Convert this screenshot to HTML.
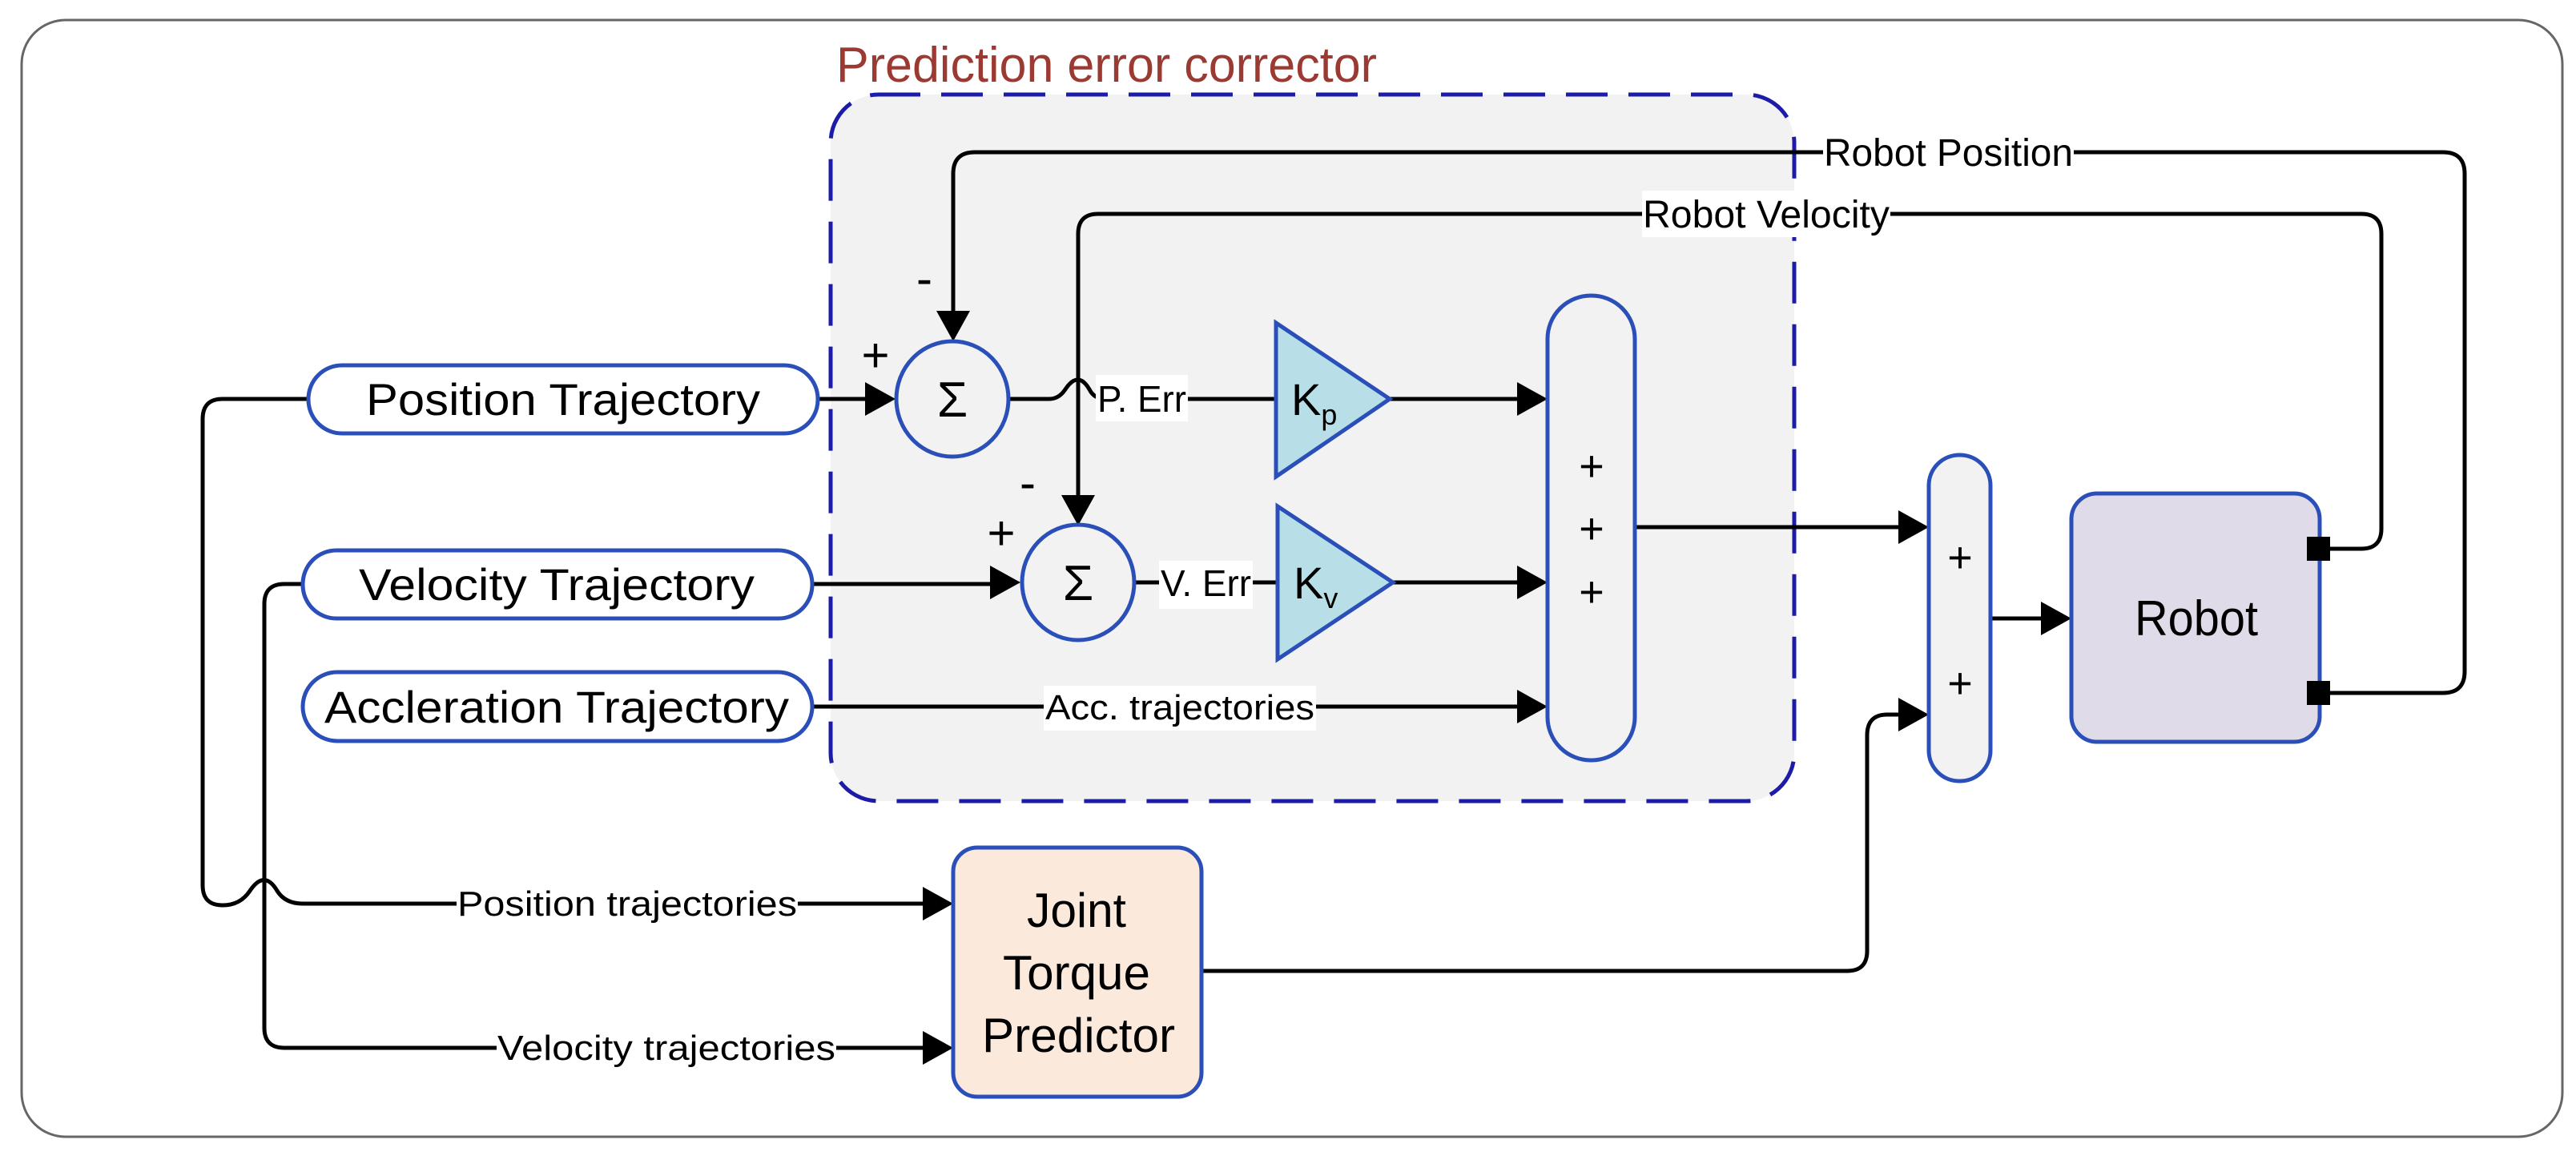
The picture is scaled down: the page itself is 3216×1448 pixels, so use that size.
<!DOCTYPE html>
<html><head><meta charset="utf-8"><style>
html,body{margin:0;padding:0;background:#fff;}
svg{display:block;}
text{font-family:"Liberation Sans",sans-serif;fill:#000;}
</style></head><body>
<svg width="3216" height="1448" viewBox="0 0 3216 1448" xmlns="http://www.w3.org/2000/svg">
<!-- outer frame -->
<rect x="27" y="25" width="3172" height="1394" rx="55" fill="#fff" stroke="#666" stroke-width="3"/>
<!-- title -->
<text x="1044" y="102" font-size="62" style="fill:#9b3a33" textLength="675" lengthAdjust="spacingAndGlyphs">Prediction error corrector</text>
<!-- dashed box -->
<rect x="1037" y="118" width="1203" height="882" rx="60" fill="#f2f2f2" stroke="#1c1ca8" stroke-width="5" stroke-dasharray="52,26"/>

<g fill="none" stroke="#000" stroke-width="5">
<path d="M2909,865 H3050 Q3077,865 3077,838 V217 Q3077,190 3050,190 H1217 Q1190,190 1190,217 V390"/>
<path d="M2909,685 H2948 Q2973,685 2973,660 V292 Q2973,267 2948,267 H1371 Q1346,267 1346,292 V620"/>
<path d="M1021,498 H1082"/>
<path d="M1260,498 H1310 Q1322,498 1330,486 Q1346,462 1360,486 Q1366,498 1380,498 H1593"/>
<path d="M1014,729 H1238"/>
<path d="M1418,727 H1593"/>
<path d="M1736,498 H1896"/>
<path d="M1739,727 H1896"/>
<path d="M1014,882 H1896"/>
<path d="M2041,658 H2372"/>
<path d="M2485,772 H2550"/>
<path d="M1500,1212 H2306 Q2331,1212 2331,1187 V918 Q2331,892 2356,892 H2372"/>
<path d="M385,498 H278 Q253,498 253,523 V1105 Q253,1130 278,1130 Q300,1130 312,1112 Q330,1085 346,1112 Q356,1128 378,1128 H1154"/>
<path d="M378,729 H355 Q330,729 330,754 V1283 Q330,1308 355,1308 H1154"/>
</g>
<g fill="#000">
<polygon points="1118,498 1080,477 1080,519"/>
<polygon points="1190,426 1169,388 1211,388"/>
<polygon points="1346,656 1325,618 1367,618"/>
<polygon points="1274,727 1236,706 1236,748"/>
<polygon points="1932,498 1894,477 1894,519"/>
<polygon points="1932,727 1894,706 1894,748"/>
<polygon points="1932,882 1894,861 1894,903"/>
<polygon points="2408,658 2370,637 2370,679"/>
<polygon points="2408,892 2370,871 2370,913"/>
<polygon points="2586,772 2548,751 2548,793"/>
<polygon points="1190,1128 1152,1107 1152,1149"/>
<polygon points="1190,1308 1152,1287 1152,1329"/>
</g>

<g fill="#fff" stroke="#2b4fb8" stroke-width="5">
<rect x="385" y="456" width="636" height="85" rx="42"/>
<rect x="378" y="687" width="636" height="85" rx="42"/>
<rect x="378" y="839" width="636" height="86" rx="43"/>
</g>
<text x="457" y="518" font-size="56" textLength="492" lengthAdjust="spacingAndGlyphs">Position Trajectory</text>
<text x="448" y="749" font-size="56" textLength="494" lengthAdjust="spacingAndGlyphs">Velocity Trajectory</text>
<text x="405" y="902" font-size="56" textLength="580" lengthAdjust="spacingAndGlyphs">Accleration Trajectory</text>

<g fill="#f2f2f2" stroke="#2b4fb8" stroke-width="5">
<ellipse cx="1189" cy="498" rx="70" ry="72"/>
<ellipse cx="1346" cy="727" rx="70" ry="72"/>
</g>
<text x="1189" y="520" font-size="62" text-anchor="middle">Σ</text>
<text x="1346" y="749" font-size="62" text-anchor="middle">Σ</text>
<text x="1154" y="368" font-size="60" text-anchor="middle">-</text>
<text x="1093" y="464" font-size="60" text-anchor="middle">+</text>
<text x="1283" y="623" font-size="60" text-anchor="middle">-</text>
<text x="1250" y="686" font-size="60" text-anchor="middle">+</text>

<g fill="#b8dfe8" stroke="#2b4fb8" stroke-width="5">
<polygon points="1593,403 1735,498 1593,595"/>
<polygon points="1595,632 1739,727 1595,823"/>
</g>
<text x="1612" y="518" font-size="56">K<tspan font-size="36" dy="12">p</tspan></text>
<text x="1615" y="747" font-size="56">K<tspan font-size="36" dy="12">v</tspan></text>

<rect x="1932" y="369" width="109" height="580" rx="54" fill="#f2f2f2" stroke="#2b4fb8" stroke-width="5"/>
<text x="1987" y="600" font-size="54" text-anchor="middle">+</text>
<text x="1987" y="678" font-size="54" text-anchor="middle">+</text>
<text x="1987" y="757" font-size="54" text-anchor="middle">+</text>
<rect x="2408" y="568" width="77" height="407" rx="38" fill="#f2f2f2" stroke="#2b4fb8" stroke-width="5"/>
<text x="2447" y="714" font-size="54" text-anchor="middle">+</text>
<text x="2447" y="871" font-size="54" text-anchor="middle">+</text>

<rect x="2586" y="616" width="310" height="310" rx="32" fill="#e0dbe8" stroke="#2b4fb8" stroke-width="5"/>
<text x="2665" y="793" font-size="62" textLength="154" lengthAdjust="spacingAndGlyphs">Robot</text>
<g fill="#000">
<rect x="2880" y="670" width="29" height="30"/>
<rect x="2880" y="850" width="29" height="30"/>
</g>

<rect x="1190" y="1058" width="310" height="311" rx="30" fill="#fbe9dc" stroke="#2b4fb8" stroke-width="5"/>
<text x="1282" y="1157" font-size="60" textLength="124" lengthAdjust="spacingAndGlyphs">Joint</text>
<text x="1252" y="1235" font-size="60" textLength="184" lengthAdjust="spacingAndGlyphs">Torque</text>
<text x="1226" y="1313" font-size="60" textLength="241" lengthAdjust="spacingAndGlyphs">Predictor</text>

<g fill="#fff">
<rect x="2276" y="164" width="313" height="52"/>
<rect x="2050" y="238" width="310" height="58"/>
<rect x="1368" y="468" width="115" height="58"/>
<rect x="1447" y="700" width="117" height="60"/>
<rect x="1303" y="856" width="340" height="56"/>
<rect x="570" y="1104" width="426" height="50"/>
<rect x="620" y="1284" width="424" height="50"/>
</g>
<text x="2277" y="207" font-size="48" textLength="311" lengthAdjust="spacingAndGlyphs">Robot Position</text>
<text x="2051" y="284" font-size="48" textLength="308" lengthAdjust="spacingAndGlyphs">Robot Velocity</text>
<text x="1370" y="514" font-size="46" textLength="111" lengthAdjust="spacingAndGlyphs">P. Err</text>
<text x="1449" y="744" font-size="46" textLength="113" lengthAdjust="spacingAndGlyphs">V. Err</text>
<text x="1305" y="898" font-size="44" textLength="336" lengthAdjust="spacingAndGlyphs">Acc. trajectories</text>
<text x="571" y="1143" font-size="44" textLength="424" lengthAdjust="spacingAndGlyphs">Position trajectories</text>
<text x="621" y="1323" font-size="44" textLength="422" lengthAdjust="spacingAndGlyphs">Velocity trajectories</text>
</svg>
</body></html>
